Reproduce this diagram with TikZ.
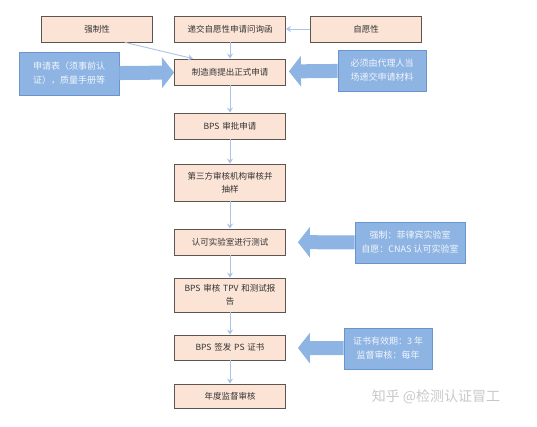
\documentclass[tikz,border=0pt]{standalone}
\usepackage{fontspec}
\setmainfont{Noto Sans CJK SC}
\usetikzlibrary{arrows.meta}

\definecolor{peach}{RGB}{251,228,214}
\definecolor{boxline}{RGB}{95,85,80}
\definecolor{notefill}{RGB}{142,180,227}
\definecolor{noteline}{RGB}{105,148,205}
\definecolor{notetext}{RGB}{242,246,252}
\definecolor{flowblue}{RGB}{170,196,230}
\definecolor{marktext}{RGB}{200,200,200}

\begin{document}
\begin{tikzpicture}[x=1pt,y=-1pt,
		stage/.style={draw=boxline, line width=0.8pt, fill=peach, minimum width=111pt, minimum height=26pt, text width=104pt, align=center, inner sep=1pt, font=\fontsize{8.5}{13}\selectfont, text=black!80},
		note/.style={draw=noteline, line width=0.8pt, fill=notefill, text=notetext, align=center, inner sep=1pt, font=\fontsize{9}{14}\selectfont},
		flow/.style={-{Stealth[length=5pt,width=6pt]}, draw=flowblue, line width=0.9pt},
		fat/.style={-{Triangle[length=12pt,width=30pt]}, draw=notefill, line width=14pt}
		]
		\useasboundingbox (0,0) rectangle (537,426);
		
		% Nodes
		\node[stage] (forced) at (97,29) {强制性};
		\node[stage] (inquiry) at (230,29) {递交自愿性申请问询函};
		\node[stage] (volun) at (366,29) {自愿性};
		\node[stage] (maker) at (230,72) {制造商提出正式申请};
		\node[stage] (approve) at (230,126) {BPS 审批申请};
		\node[stage, minimum height=37pt] (audit) at (230,182.5) {第三方审核机构审核并\\抽样};
		\node[stage] (test) at (230,242) {认可实验室进行测试};
		\node[stage, minimum height=34pt] (review) at (230,295) {BPS 审核 TPV 和测试报\\告};
		\node[stage, minimum height=25pt] (issue) at (230,347.5) {BPS 签发 PS 证书};
		\node[stage, minimum height=24pt] (annual) at (230,396) {年度监督审核};
		
		\node[note, minimum width=100pt, minimum height=43pt] (docs) at (69,73.5) {申请表（须事前认\\证），质量手册等};
		\node[note, minimum width=88pt, minimum height=41pt] (agent) at (382,70.5) {必须由代理人当\\场递交申请材料};
		\node[note, minimum width=110pt, minimum height=41pt] (labnote) at (410,242.5) {强制：菲律宾实验室\\自愿：CNAS 认可实验室};
		\node[note, minimum width=88pt, minimum height=41pt] (certnote) at (388,348.5) {证书有效期：3 年\\监督审核：每年};
		
		% Arrows
		\draw[flow] ([xshift=28pt]forced.south) -- ([xshift=-37pt]maker.north);
		\draw[flow] (volun) -- (inquiry);
		\draw[flow] (inquiry) -- (maker);
		\draw[flow] (maker) -- (approve);
		\draw[flow] (approve) -- (audit);
		\draw[flow] (audit) -- (test);
		\draw[flow] (test) -- (review);
		\draw[flow] (review) -- (issue);
		\draw[flow] (issue) -- (annual);
		
		\draw[fat] (docs) -- (maker);
		\draw[fat, shorten >=3pt] (agent) -- (maker);
		\draw[fat, shorten >=12pt] (labnote) -- (test);
		\draw[fat, shorten >=12pt] (certnote) -- (issue);
		
		% Watermark
		\node[text=marktext, font=\fontsize{14}{16}\selectfont] (mark) at (436,397) {知乎 @检测认证冒工};
		
	\end{tikzpicture}
\end{document}
